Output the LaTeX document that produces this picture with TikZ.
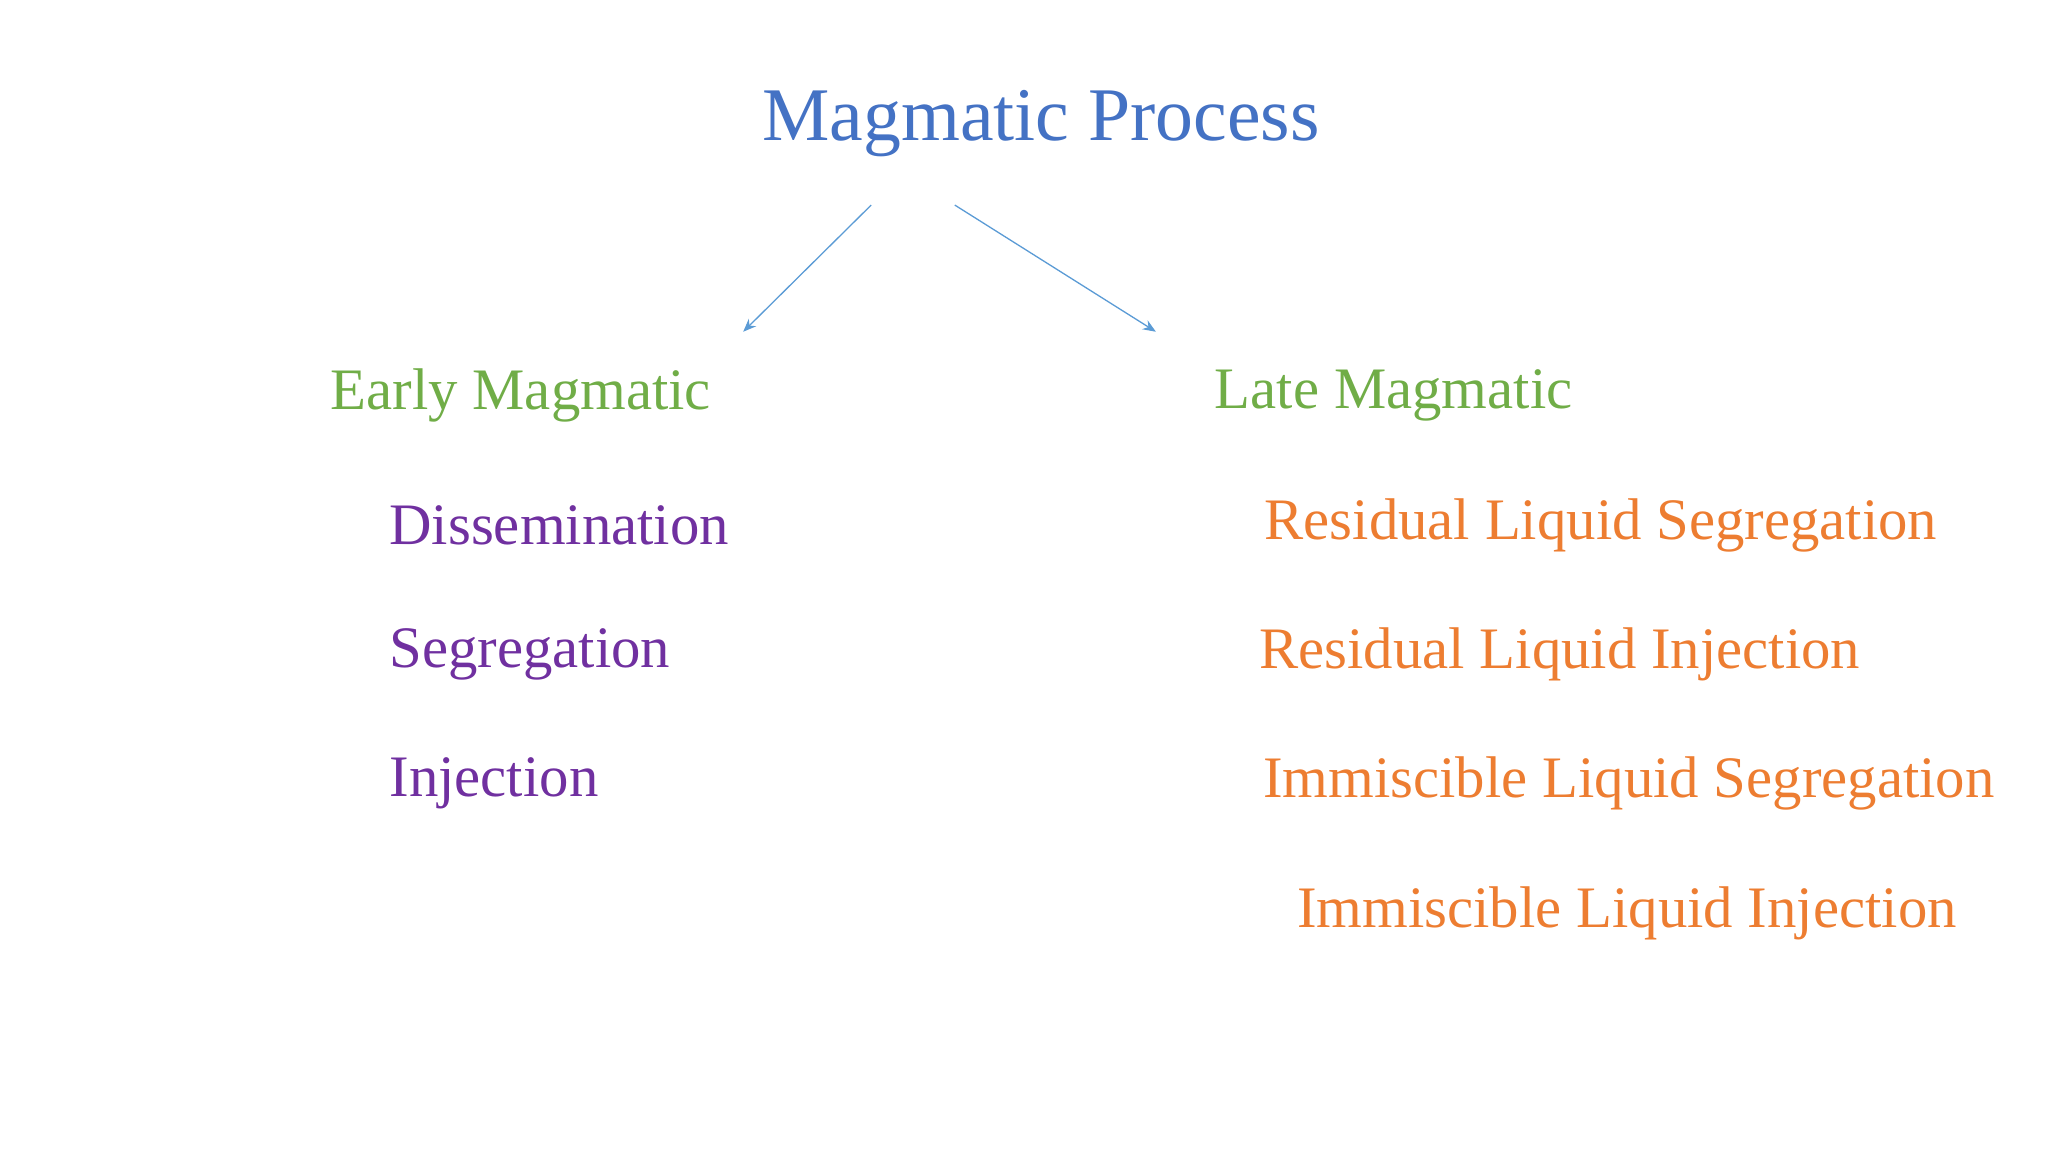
\documentclass[tikz,border=0pt]{standalone}
\usepackage{fontspec}
\setmainfont{Liberation Serif}
\usetikzlibrary{arrows.meta}
\definecolor{tblue}{HTML}{4472C4}
\definecolor{tgreen}{HTML}{70AD47}
\definecolor{tpurple}{HTML}{7030A0}
\definecolor{torange}{HTML}{ED7D31}
\definecolor{abl}{HTML}{5B9BD5}
\begin{document}
\begin{tikzpicture}[x=1pt,y=-1pt,
  t/.style={anchor=west,inner sep=0pt,font=\fontsize{45}{50}\selectfont},
  head/.style={t,text=tgreen},
  pur/.style={t,text=tpurple},
  ora/.style={t,text=torange},
  arr/.style={draw=abl,line width=1pt,-{Stealth[length=10pt,width=8pt]}}]
\useasboundingbox (0,0) rectangle (1568,882);
\node[inner sep=0pt,text=tblue,font=\fontsize{58}{64}\selectfont] (title) at (797,95) {Magmatic Process};
\node[head] (early) at (253,303) {Early Magmatic};
\node[head] (late) at (930,303) {Late Magmatic};
\node[pur] (d) at (298,402) {Dissemination};
\node[pur] (s) at (298,501) {Segregation};
\node[pur] (i) at (298,600) {Injection};
\node[ora] (r1) at (968,402) {Residual Liquid Segregation};
\node[ora] (r2) at (964,501) {Residual Liquid Injection};
\node[ora] (r3) at (967,600) {Immiscible Liquid Segregation};
\node[ora] (r4) at (993,699) {Immiscible Liquid Injection};
\coordinate (a1s) at (667,157); \coordinate (a1e) at (569,254);
\coordinate (a2s) at (731,157); \coordinate (a2e) at (885,254);
\draw[arr] (a1s) -- (a1e);
\draw[arr] (a2s) -- (a2e);
\end{tikzpicture}
\end{document}
